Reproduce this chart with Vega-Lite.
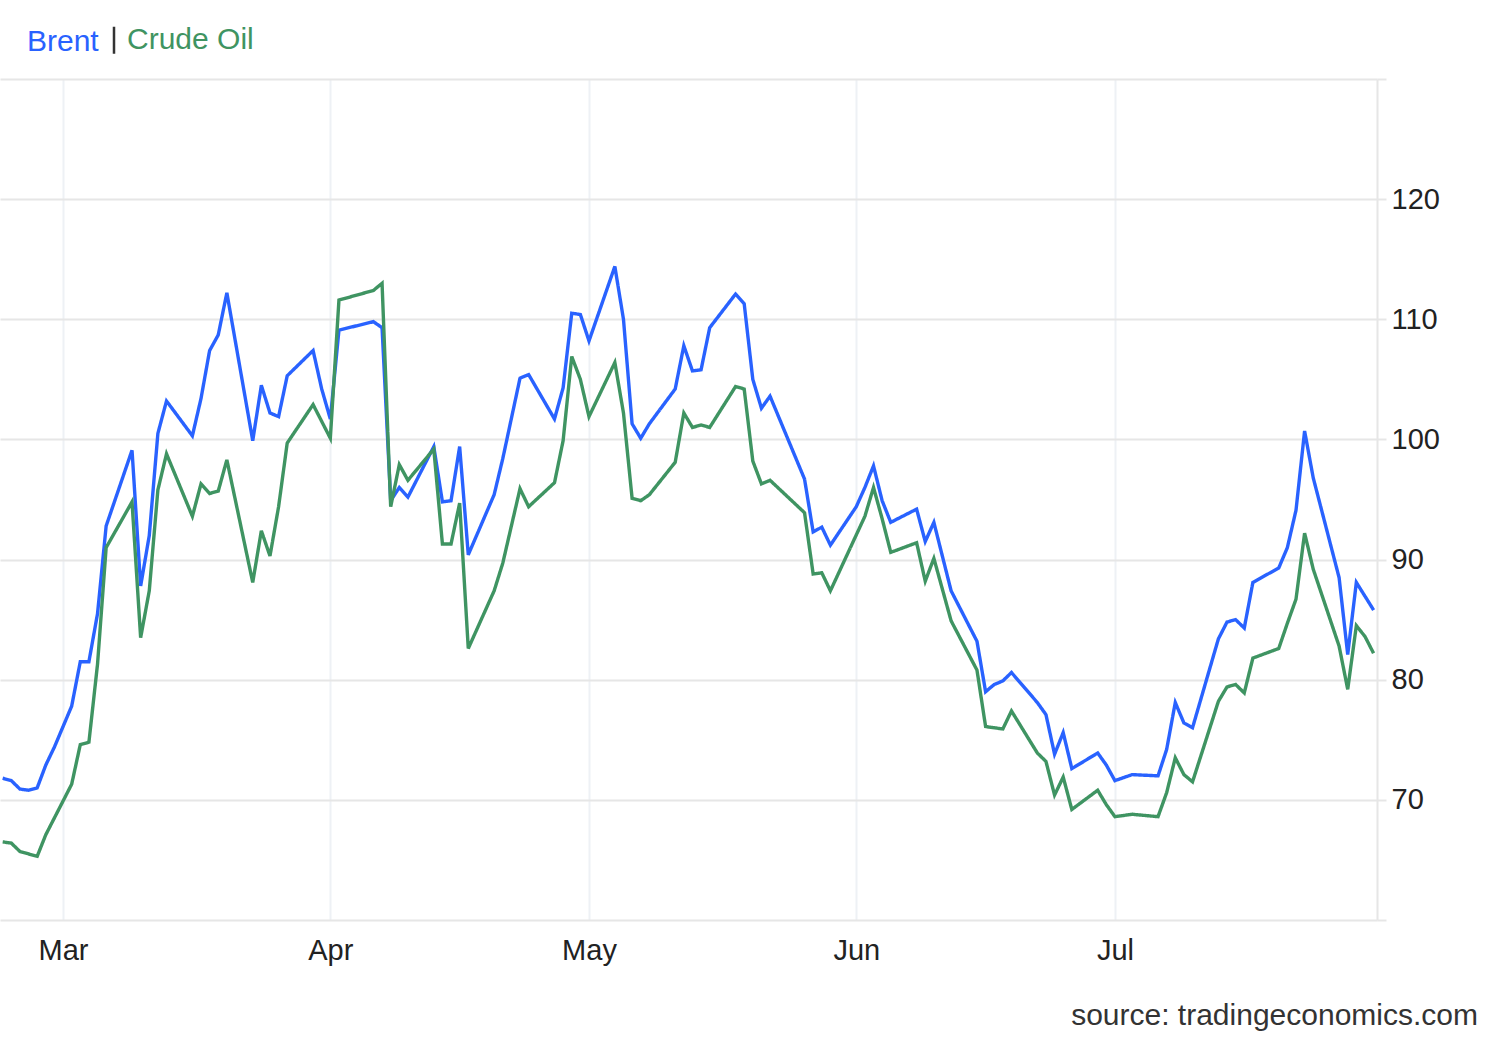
{
  "$schema": "https://vega.github.io/schema/vega-lite/v6.json",
  "width": 1377,
  "height": 841,
  "autosize": "none",
  "padding": {"left": 0, "top": 79, "right": 123, "bottom": 120},
  "background": "white",
  "config": {
    "font": "Liberation Sans",
    "view": {"stroke": null}
  },
  "title": {
    "text": "source: tradingeconomics.com",
    "orient": "bottom",
    "anchor": "end",
    "frame": "group",
    "fontSize": 30,
    "fontWeight": "normal",
    "color": "#333333",
    "offset": 36,
    "dx": 101
  },
  "data": {
    "values": [
      {"d": "2022-02-22", "s": "Brent", "v": 71.8},
      {"d": "2022-02-23", "s": "Brent", "v": 71.6},
      {"d": "2022-02-24", "s": "Brent", "v": 70.9},
      {"d": "2022-02-25", "s": "Brent", "v": 70.8},
      {"d": "2022-02-26", "s": "Brent", "v": 71.0},
      {"d": "2022-02-27", "s": "Brent", "v": 72.9},
      {"d": "2022-02-28", "s": "Brent", "v": 74.4},
      {"d": "2022-03-01", "s": "Brent", "v": 76.1},
      {"d": "2022-03-02", "s": "Brent", "v": 77.8},
      {"d": "2022-03-03", "s": "Brent", "v": 81.5},
      {"d": "2022-03-04", "s": "Brent", "v": 81.5},
      {"d": "2022-03-05", "s": "Brent", "v": 85.5},
      {"d": "2022-03-06", "s": "Brent", "v": 92.8},
      {"d": "2022-03-09", "s": "Brent", "v": 99.1},
      {"d": "2022-03-10", "s": "Brent", "v": 87.8},
      {"d": "2022-03-11", "s": "Brent", "v": 92.0},
      {"d": "2022-03-12", "s": "Brent", "v": 100.5},
      {"d": "2022-03-13", "s": "Brent", "v": 103.2},
      {"d": "2022-03-16", "s": "Brent", "v": 100.3},
      {"d": "2022-03-17", "s": "Brent", "v": 103.4},
      {"d": "2022-03-18", "s": "Brent", "v": 107.4},
      {"d": "2022-03-19", "s": "Brent", "v": 108.7},
      {"d": "2022-03-20", "s": "Brent", "v": 112.2},
      {"d": "2022-03-23", "s": "Brent", "v": 99.9},
      {"d": "2022-03-24", "s": "Brent", "v": 104.5},
      {"d": "2022-03-25", "s": "Brent", "v": 102.2},
      {"d": "2022-03-26", "s": "Brent", "v": 101.9},
      {"d": "2022-03-27", "s": "Brent", "v": 105.3},
      {"d": "2022-03-30", "s": "Brent", "v": 107.4},
      {"d": "2022-03-31", "s": "Brent", "v": 104.2},
      {"d": "2022-04-01", "s": "Brent", "v": 101.7},
      {"d": "2022-04-02", "s": "Brent", "v": 109.1},
      {"d": "2022-04-06", "s": "Brent", "v": 109.8},
      {"d": "2022-04-07", "s": "Brent", "v": 109.3},
      {"d": "2022-04-08", "s": "Brent", "v": 94.9},
      {"d": "2022-04-09", "s": "Brent", "v": 96.0},
      {"d": "2022-04-10", "s": "Brent", "v": 95.2},
      {"d": "2022-04-13", "s": "Brent", "v": 99.4},
      {"d": "2022-04-14", "s": "Brent", "v": 94.8},
      {"d": "2022-04-15", "s": "Brent", "v": 94.9},
      {"d": "2022-04-16", "s": "Brent", "v": 99.4},
      {"d": "2022-04-17", "s": "Brent", "v": 90.4},
      {"d": "2022-04-20", "s": "Brent", "v": 95.4},
      {"d": "2022-04-21", "s": "Brent", "v": 98.4},
      {"d": "2022-04-23", "s": "Brent", "v": 105.1},
      {"d": "2022-04-24", "s": "Brent", "v": 105.4},
      {"d": "2022-04-27", "s": "Brent", "v": 101.7},
      {"d": "2022-04-28", "s": "Brent", "v": 104.3},
      {"d": "2022-04-29", "s": "Brent", "v": 110.5},
      {"d": "2022-04-30", "s": "Brent", "v": 110.4},
      {"d": "2022-05-01", "s": "Brent", "v": 108.2},
      {"d": "2022-05-04", "s": "Brent", "v": 114.4},
      {"d": "2022-05-05", "s": "Brent", "v": 110.0},
      {"d": "2022-05-06", "s": "Brent", "v": 101.3},
      {"d": "2022-05-07", "s": "Brent", "v": 100.1},
      {"d": "2022-05-08", "s": "Brent", "v": 101.3},
      {"d": "2022-05-11", "s": "Brent", "v": 104.2},
      {"d": "2022-05-12", "s": "Brent", "v": 107.8},
      {"d": "2022-05-13", "s": "Brent", "v": 105.7},
      {"d": "2022-05-14", "s": "Brent", "v": 105.8},
      {"d": "2022-05-15", "s": "Brent", "v": 109.3},
      {"d": "2022-05-18", "s": "Brent", "v": 112.1},
      {"d": "2022-05-19", "s": "Brent", "v": 111.3},
      {"d": "2022-05-20", "s": "Brent", "v": 105.0},
      {"d": "2022-05-21", "s": "Brent", "v": 102.6},
      {"d": "2022-05-22", "s": "Brent", "v": 103.6},
      {"d": "2022-05-26", "s": "Brent", "v": 96.7},
      {"d": "2022-05-27", "s": "Brent", "v": 92.3},
      {"d": "2022-05-28", "s": "Brent", "v": 92.7},
      {"d": "2022-05-29", "s": "Brent", "v": 91.2},
      {"d": "2022-06-01", "s": "Brent", "v": 94.4},
      {"d": "2022-06-02", "s": "Brent", "v": 96.0},
      {"d": "2022-06-03", "s": "Brent", "v": 97.8},
      {"d": "2022-06-04", "s": "Brent", "v": 94.9},
      {"d": "2022-06-05", "s": "Brent", "v": 93.1},
      {"d": "2022-06-08", "s": "Brent", "v": 94.2},
      {"d": "2022-06-09", "s": "Brent", "v": 91.5},
      {"d": "2022-06-10", "s": "Brent", "v": 93.1},
      {"d": "2022-06-12", "s": "Brent", "v": 87.4},
      {"d": "2022-06-15", "s": "Brent", "v": 83.2},
      {"d": "2022-06-16", "s": "Brent", "v": 79.0},
      {"d": "2022-06-17", "s": "Brent", "v": 79.6},
      {"d": "2022-06-18", "s": "Brent", "v": 79.9},
      {"d": "2022-06-19", "s": "Brent", "v": 80.6},
      {"d": "2022-06-22", "s": "Brent", "v": 78.1},
      {"d": "2022-06-23", "s": "Brent", "v": 77.1},
      {"d": "2022-06-24", "s": "Brent", "v": 73.8},
      {"d": "2022-06-25", "s": "Brent", "v": 75.6},
      {"d": "2022-06-26", "s": "Brent", "v": 72.6},
      {"d": "2022-06-29", "s": "Brent", "v": 73.9},
      {"d": "2022-06-30", "s": "Brent", "v": 72.9},
      {"d": "2022-07-01", "s": "Brent", "v": 71.6},
      {"d": "2022-07-03", "s": "Brent", "v": 72.1},
      {"d": "2022-07-06", "s": "Brent", "v": 72.0},
      {"d": "2022-07-07", "s": "Brent", "v": 74.2},
      {"d": "2022-07-08", "s": "Brent", "v": 78.1},
      {"d": "2022-07-09", "s": "Brent", "v": 76.4},
      {"d": "2022-07-10", "s": "Brent", "v": 76.0},
      {"d": "2022-07-13", "s": "Brent", "v": 83.4},
      {"d": "2022-07-14", "s": "Brent", "v": 84.8},
      {"d": "2022-07-15", "s": "Brent", "v": 85.0},
      {"d": "2022-07-16", "s": "Brent", "v": 84.3},
      {"d": "2022-07-17", "s": "Brent", "v": 88.1},
      {"d": "2022-07-20", "s": "Brent", "v": 89.3},
      {"d": "2022-07-21", "s": "Brent", "v": 91.0},
      {"d": "2022-07-22", "s": "Brent", "v": 94.1},
      {"d": "2022-07-23", "s": "Brent", "v": 100.7},
      {"d": "2022-07-24", "s": "Brent", "v": 96.8},
      {"d": "2022-07-27", "s": "Brent", "v": 88.5},
      {"d": "2022-07-28", "s": "Brent", "v": 82.1},
      {"d": "2022-07-29", "s": "Brent", "v": 88.1},
      {"d": "2022-07-31", "s": "Brent", "v": 85.8},
      {"d": "2022-02-22", "s": "Crude Oil", "v": 66.5},
      {"d": "2022-02-23", "s": "Crude Oil", "v": 66.4},
      {"d": "2022-02-24", "s": "Crude Oil", "v": 65.7},
      {"d": "2022-02-25", "s": "Crude Oil", "v": 65.5},
      {"d": "2022-02-26", "s": "Crude Oil", "v": 65.3},
      {"d": "2022-02-27", "s": "Crude Oil", "v": 67.1},
      {"d": "2022-03-02", "s": "Crude Oil", "v": 71.3},
      {"d": "2022-03-03", "s": "Crude Oil", "v": 74.6},
      {"d": "2022-03-04", "s": "Crude Oil", "v": 74.8},
      {"d": "2022-03-05", "s": "Crude Oil", "v": 81.3},
      {"d": "2022-03-06", "s": "Crude Oil", "v": 91.0},
      {"d": "2022-03-09", "s": "Crude Oil", "v": 94.8},
      {"d": "2022-03-10", "s": "Crude Oil", "v": 83.5},
      {"d": "2022-03-11", "s": "Crude Oil", "v": 87.4},
      {"d": "2022-03-12", "s": "Crude Oil", "v": 95.8},
      {"d": "2022-03-13", "s": "Crude Oil", "v": 98.8},
      {"d": "2022-03-16", "s": "Crude Oil", "v": 93.6},
      {"d": "2022-03-17", "s": "Crude Oil", "v": 96.3},
      {"d": "2022-03-18", "s": "Crude Oil", "v": 95.5},
      {"d": "2022-03-19", "s": "Crude Oil", "v": 95.7},
      {"d": "2022-03-20", "s": "Crude Oil", "v": 98.3},
      {"d": "2022-03-23", "s": "Crude Oil", "v": 88.1},
      {"d": "2022-03-24", "s": "Crude Oil", "v": 92.4},
      {"d": "2022-03-25", "s": "Crude Oil", "v": 90.3},
      {"d": "2022-03-26", "s": "Crude Oil", "v": 94.4},
      {"d": "2022-03-27", "s": "Crude Oil", "v": 99.7},
      {"d": "2022-03-30", "s": "Crude Oil", "v": 102.9},
      {"d": "2022-04-01", "s": "Crude Oil", "v": 100.1},
      {"d": "2022-04-02", "s": "Crude Oil", "v": 111.6},
      {"d": "2022-04-06", "s": "Crude Oil", "v": 112.4},
      {"d": "2022-04-07", "s": "Crude Oil", "v": 113.0},
      {"d": "2022-04-08", "s": "Crude Oil", "v": 94.4},
      {"d": "2022-04-09", "s": "Crude Oil", "v": 97.9},
      {"d": "2022-04-10", "s": "Crude Oil", "v": 96.6},
      {"d": "2022-04-13", "s": "Crude Oil", "v": 99.2},
      {"d": "2022-04-14", "s": "Crude Oil", "v": 91.3},
      {"d": "2022-04-15", "s": "Crude Oil", "v": 91.3},
      {"d": "2022-04-16", "s": "Crude Oil", "v": 94.7},
      {"d": "2022-04-17", "s": "Crude Oil", "v": 82.6},
      {"d": "2022-04-20", "s": "Crude Oil", "v": 87.4},
      {"d": "2022-04-21", "s": "Crude Oil", "v": 89.7},
      {"d": "2022-04-23", "s": "Crude Oil", "v": 95.9},
      {"d": "2022-04-24", "s": "Crude Oil", "v": 94.4},
      {"d": "2022-04-27", "s": "Crude Oil", "v": 96.4},
      {"d": "2022-04-28", "s": "Crude Oil", "v": 99.9},
      {"d": "2022-04-29", "s": "Crude Oil", "v": 106.9},
      {"d": "2022-04-30", "s": "Crude Oil", "v": 105.0},
      {"d": "2022-05-01", "s": "Crude Oil", "v": 101.9},
      {"d": "2022-05-04", "s": "Crude Oil", "v": 106.4},
      {"d": "2022-05-05", "s": "Crude Oil", "v": 102.2},
      {"d": "2022-05-06", "s": "Crude Oil", "v": 95.1},
      {"d": "2022-05-07", "s": "Crude Oil", "v": 94.9},
      {"d": "2022-05-08", "s": "Crude Oil", "v": 95.4},
      {"d": "2022-05-11", "s": "Crude Oil", "v": 98.1},
      {"d": "2022-05-12", "s": "Crude Oil", "v": 102.2},
      {"d": "2022-05-13", "s": "Crude Oil", "v": 101.0},
      {"d": "2022-05-14", "s": "Crude Oil", "v": 101.2},
      {"d": "2022-05-15", "s": "Crude Oil", "v": 101.0},
      {"d": "2022-05-18", "s": "Crude Oil", "v": 104.4},
      {"d": "2022-05-19", "s": "Crude Oil", "v": 104.2},
      {"d": "2022-05-20", "s": "Crude Oil", "v": 98.2},
      {"d": "2022-05-21", "s": "Crude Oil", "v": 96.3},
      {"d": "2022-05-22", "s": "Crude Oil", "v": 96.6},
      {"d": "2022-05-26", "s": "Crude Oil", "v": 93.9},
      {"d": "2022-05-27", "s": "Crude Oil", "v": 88.8},
      {"d": "2022-05-28", "s": "Crude Oil", "v": 88.9},
      {"d": "2022-05-29", "s": "Crude Oil", "v": 87.4},
      {"d": "2022-06-02", "s": "Crude Oil", "v": 93.6},
      {"d": "2022-06-03", "s": "Crude Oil", "v": 96.0},
      {"d": "2022-06-04", "s": "Crude Oil", "v": 93.4},
      {"d": "2022-06-05", "s": "Crude Oil", "v": 90.6},
      {"d": "2022-06-08", "s": "Crude Oil", "v": 91.4},
      {"d": "2022-06-09", "s": "Crude Oil", "v": 88.2},
      {"d": "2022-06-10", "s": "Crude Oil", "v": 90.1},
      {"d": "2022-06-12", "s": "Crude Oil", "v": 84.9},
      {"d": "2022-06-15", "s": "Crude Oil", "v": 80.8},
      {"d": "2022-06-16", "s": "Crude Oil", "v": 76.1},
      {"d": "2022-06-17", "s": "Crude Oil", "v": 76.0},
      {"d": "2022-06-18", "s": "Crude Oil", "v": 75.9},
      {"d": "2022-06-19", "s": "Crude Oil", "v": 77.4},
      {"d": "2022-06-22", "s": "Crude Oil", "v": 73.9},
      {"d": "2022-06-23", "s": "Crude Oil", "v": 73.2},
      {"d": "2022-06-24", "s": "Crude Oil", "v": 70.4},
      {"d": "2022-06-25", "s": "Crude Oil", "v": 71.9},
      {"d": "2022-06-26", "s": "Crude Oil", "v": 69.2},
      {"d": "2022-06-29", "s": "Crude Oil", "v": 70.8},
      {"d": "2022-06-30", "s": "Crude Oil", "v": 69.6},
      {"d": "2022-07-01", "s": "Crude Oil", "v": 68.6},
      {"d": "2022-07-03", "s": "Crude Oil", "v": 68.8},
      {"d": "2022-07-06", "s": "Crude Oil", "v": 68.6},
      {"d": "2022-07-07", "s": "Crude Oil", "v": 70.6},
      {"d": "2022-07-08", "s": "Crude Oil", "v": 73.5},
      {"d": "2022-07-09", "s": "Crude Oil", "v": 72.1},
      {"d": "2022-07-10", "s": "Crude Oil", "v": 71.5},
      {"d": "2022-07-13", "s": "Crude Oil", "v": 78.2},
      {"d": "2022-07-14", "s": "Crude Oil", "v": 79.4},
      {"d": "2022-07-15", "s": "Crude Oil", "v": 79.6},
      {"d": "2022-07-16", "s": "Crude Oil", "v": 78.9},
      {"d": "2022-07-17", "s": "Crude Oil", "v": 81.8},
      {"d": "2022-07-20", "s": "Crude Oil", "v": 82.6},
      {"d": "2022-07-21", "s": "Crude Oil", "v": 84.7},
      {"d": "2022-07-22", "s": "Crude Oil", "v": 86.7},
      {"d": "2022-07-23", "s": "Crude Oil", "v": 92.2},
      {"d": "2022-07-24", "s": "Crude Oil", "v": 89.2},
      {"d": "2022-07-27", "s": "Crude Oil", "v": 82.8},
      {"d": "2022-07-28", "s": "Crude Oil", "v": 79.2},
      {"d": "2022-07-29", "s": "Crude Oil", "v": 84.5},
      {"d": "2022-07-30", "s": "Crude Oil", "v": 83.6},
      {"d": "2022-07-31", "s": "Crude Oil", "v": 82.2}
    ]
  },
  "mark": {"type": "line", "strokeWidth": 3.4, "clip": true},
  "encoding": {
    "x": {
      "field": "d",
      "type": "temporal",
      "title": null,
      "scale": {
        "type": "utc",
        "domain": [
          {"year": 2022, "month": 2, "date": 21, "hours": 16, "minutes": 30, "utc": true},
          {"year": 2022, "month": 7, "date": 31, "hours": 9, "minutes": 30, "utc": true}
        ]
      },
      "axis": {
        "format": "%b",
        "tickCount": "month",
        "grid": true,
        "gridColor": "#eef1f5",
        "gridWidth": 2,
        "ticks": false,
        "domain": false,
        "labelFlush": false,
        "labelFontSize": 29,
        "labelColor": "#222222",
        "labelPadding": 16
      }
    },
    "y": {
      "field": "v",
      "type": "quantitative",
      "title": null,
      "scale": {"domain": [60, 130], "nice": false, "zero": false},
      "axis": {
        "orient": "right",
        "values": [60, 70, 80, 90, 100, 110, 120, 130],
        "labelExpr": "datum.value == 60 || datum.value == 130 ? '' : datum.label",
        "grid": true,
        "gridColor": "#e6e6e6",
        "gridWidth": 2,
        "domainColor": "#e6e6e6",
        "domainWidth": 2,
        "tickColor": "#e6e6e6",
        "tickWidth": 2,
        "tickSize": 9,
        "labelFontSize": 29,
        "labelColor": "#222222",
        "labelPadding": 5
      }
    },
    "color": {
      "field": "s",
      "type": "nominal",
      "scale": {"domain": ["Brent", "Crude Oil"], "range": ["#2962ff", "#3f9462"]},
      "legend": null
    },
    "strokeDash": {
      "field": "s",
      "type": "nominal",
      "scale": {"range": [[1, 0], [1, 0]]},
      "legend": {
        "title": null,
        "orient": "none",
        "legendX": -1,
        "legendY": -54,
        "direction": "horizontal",
        "padding": 0,
        "symbolType": "M0,-1L0,1",
        "symbolSize": 729,
        "symbolStrokeWidth": 2.5,
        "symbolStrokeColor": "#333333",
        "symbolOpacity": {"expr": "datum.value === 'Brent' ? 0 : 1"},
        "labelColor": {"expr": "datum.value === 'Brent' ? '#2962ff' : '#3f9462'"},
        "labelFontSize": 30,
        "labelOffset": -2,
        "columnPadding": -9,
        "labelLimit": 0
      }
    }
  }
}
